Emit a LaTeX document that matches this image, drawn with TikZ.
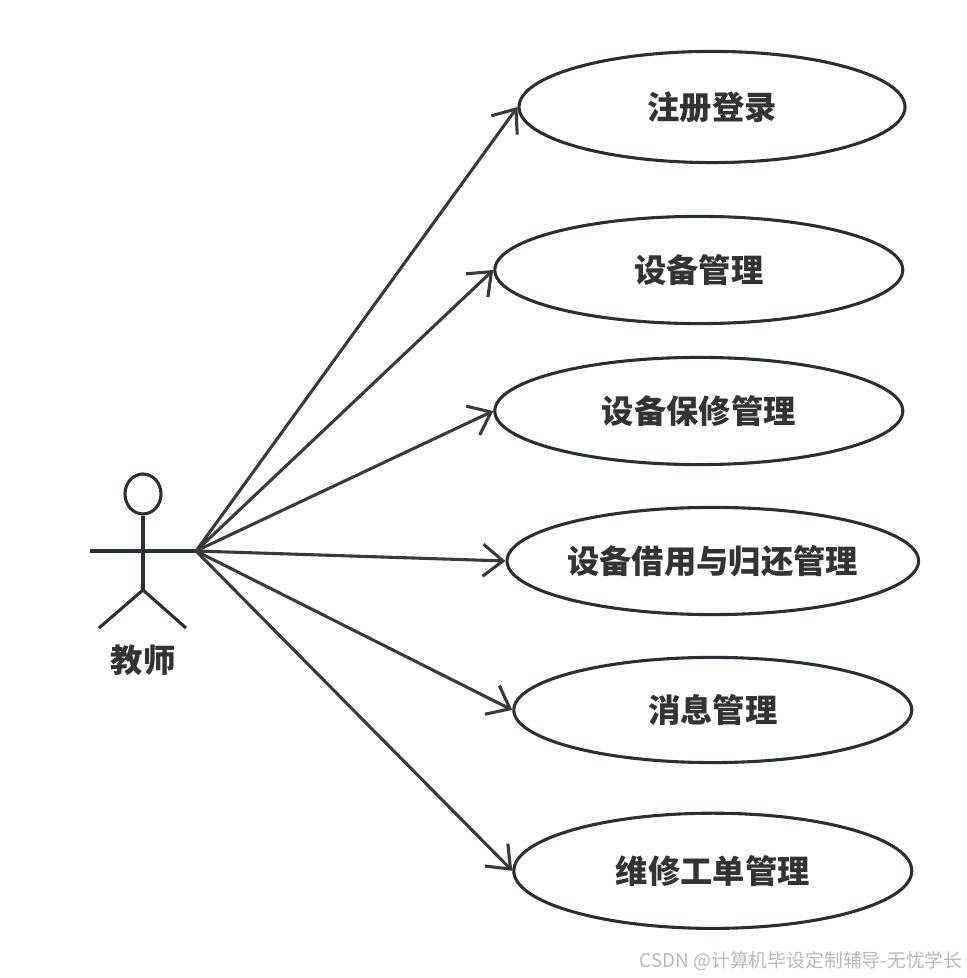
\documentclass[tikz,border=0pt]{standalone}
\usepackage{fontspec}
\setmainfont{Noto Sans CJK SC}
\usetikzlibrary{shapes.geometric,arrows.meta}
\definecolor{outline}{HTML}{2A2F36}
\definecolor{linkgray}{HTML}{3A3A3A}

\begin{document}
\begin{tikzpicture}[
        usecase/.style={ellipse, draw=outline, line width=2.2pt, text=black!80, font=\fontsize{23}{27}\selectfont\bfseries, inner sep=0pt},
        limb/.style={line width=2.2pt, draw=outline},
        link/.style={-{Straight Barb[length=0.5cm, width=0.8cm, line width=2.2pt]}, line width=2.2pt, draw=linkgray}
    ]
    \useasboundingbox (0, 0) rectangle (24.15, 24.45);

    % Actor
    \node[ellipse, draw=outline, line width=2.2pt, minimum width=0.9cm, minimum height=1cm, inner sep=0pt] (H) at (3.575, 12.1) {};
    \coordinate (L) at (2.25, 10.675);
    \coordinate (R) at (4.9, 10.675);
    \coordinate (W) at (3.575, 9.7);
    \coordinate (F1) at (2.475, 8.75);
    \coordinate (F2) at (4.65, 8.75);
    \draw[limb] (H) -- (W);
    \draw[limb] (L) -- (R);
    \draw[limb] (F1) -- (W) -- (F2);
    \node[font=\fontsize{23}{27}\selectfont\bfseries, text=black!80, inner sep=0pt] (A) at (3.575, 7.95) {教师};

    % Use cases
    \node[usecase, minimum width=9.65cm, minimum height=2.78cm] (U1) at (17.8, 21.775) {注册登录};
    \node[usecase, minimum width=10.2cm, minimum height=2.68cm] (U2) at (17.47, 17.7) {设备管理};
    \node[usecase, minimum width=10.2cm, minimum height=2.68cm] (U3) at (17.47, 14.175) {设备保修管理};
    \node[usecase, minimum width=10.2cm, minimum height=2.68cm] (U4) at (17.82, 10.425) {设备借用与归还管理};
    \node[usecase, minimum width=9.95cm, minimum height=2.63cm] (U5) at (17.82, 6.7) {消息管理};
    \node[usecase, minimum width=9.95cm, minimum height=2.88cm] (U6) at (17.82, 2.68) {维修工单管理};

    % Links
    \draw[link] (R) -- (U1.west);
    \draw[link] (R) -- (U2.west);
    \draw[link] (R) -- (U3.west);
    \draw[link] (R) -- (U4.west);
    \draw[link] (R) -- (U5.west);
    \draw[link] (R) -- (U6.west);

    \node[font=\fontsize{13.4}{16}\selectfont, text=black!28, inner sep=0pt] (C) at (20.03, 0.42) {CSDN @计算机毕设定制辅导-无忧学长};
\end{tikzpicture}
\end{document}
